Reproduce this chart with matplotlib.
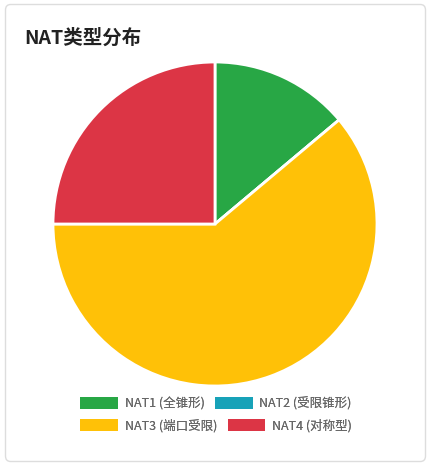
import matplotlib.pyplot as plt
from matplotlib.patches import FancyBboxPatch

plt.rcParams['font.family'] = ['Noto Sans CJK SC', 'DejaVu Sans']

# NAT type counts
labels = ['NAT1 (全锥形)', 'NAT2 (受限锥形)', 'NAT3 (端口受限)', 'NAT4 (对称型)']
counts = [5, 0, 22, 9]
colors = ['#28a745', '#17a2b8', '#ffc107', '#dc3545']

W, H = 431, 466
fig = plt.figure(figsize=(W / 100, H / 100), dpi=100)

# card background
card = FancyBboxPatch((5.5 / W, 4.5 / H), 420 / W, 457 / H,
                      boxstyle='round,pad=0,rounding_size=0.012',
                      transform=fig.transFigure, facecolor='white',
                      edgecolor='#dddddd', linewidth=1, zorder=-5)
fig.patches.append(card)

fig.text(24 / W, 1 - 38 / H, 'NAT类型分布', fontsize=14, fontweight='bold',
         color='#222222', va='center', ha='left')

r = 162
cx, cy = 215, 224
ax = fig.add_axes([(cx - r) / W, (H - cy - r) / H, 2 * r / W, 2 * r / H])
ax.patch.set_visible(False)
wedges, _ = ax.pie(counts, colors=colors, startangle=90, counterclock=False,
                   wedgeprops=dict(edgecolor='white', linewidth=2))
ax.set_aspect('equal')
ax.set_xlim(-1, 1)
ax.set_ylim(-1, 1)
ax.axis('off')

# legend: two rows, each centered like Chart.js
for row, y in enumerate([404, 426]):
    idx = [row * 2, row * 2 + 1]
    leg = fig.legend([wedges[i] for i in idx], [labels[i] for i in idx],
                     loc='center', bbox_to_anchor=(216 / W, 1 - y / H), ncol=2,
                     frameon=False, fontsize=9, handlelength=3.0, handleheight=1.1,
                     handletextpad=0.55, columnspacing=0.85, labelcolor='#666666',
                     borderpad=0, borderaxespad=0)
    for h in leg.legend_handles:
        h.set_edgecolor('none')
    fig.add_artist(leg)

fig.savefig('out.png', dpi=100)
